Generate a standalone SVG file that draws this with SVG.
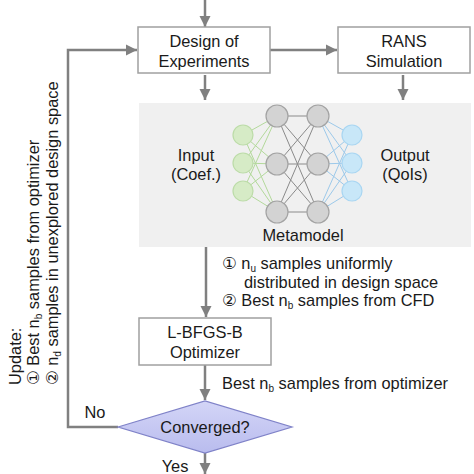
<svg xmlns="http://www.w3.org/2000/svg" width="474" height="474" viewBox="0 0 474 474">
<defs>
<style>
text{font-family:"Liberation Sans","DejaVu Sans",Arial,sans-serif;font-size:16.4px;fill:#1a1a1a}
.c{text-anchor:middle}
.s{font-size:10px}
.box{fill:#fff;stroke:#a0a0a0;stroke-width:1.5}
.arr{fill:none;stroke:#808080;stroke-width:2.5;marker-end:url(#ah)}
.g{fill:#d3d3d3;stroke:#a3a3a3;stroke-width:1.2}
.gi{fill:#d6ebc6;stroke:#bcdca8;stroke-width:1.2}
.bo{fill:#c8e7f8;stroke:#a9d6f2;stroke-width:1.2}
.eg{stroke:#8a8a8a;stroke-width:1}
.eg2{stroke:#b3d99b;stroke-width:1}
.eb{stroke:#9cc9ea;stroke-width:1}
</style>
<marker id="ah" markerUnits="userSpaceOnUse" markerWidth="12" markerHeight="12" viewBox="0 0 12 12" refX="11" refY="6" orient="auto">
<path d="M0,0.5 L11,6 L0,11.5 z" fill="#808080"/>
</marker>
<linearGradient id="dg" x1="0" y1="0" x2="0" y2="1">
<stop offset="0" stop-color="#d3d5f7"/>
<stop offset="1" stop-color="#b9bcee"/>
</linearGradient>
</defs>

<g id="connectors">
<path class="arr" d="M205,0 V27"/>
<path class="arr" d="M270,50 H337"/>
<path class="arr" d="M205,75 V100"/>
<path class="arr" d="M403,75 V100"/>
<path class="arr" d="M206,247 V317"/>
<path class="arr" d="M205,365 V400"/>
<path class="arr" d="M118,427 H68 V50 H137"/>
<path class="arr" d="M205,453 V474"/>
</g>

<g id="doe">
<rect class="box" x="138" y="27" width="132" height="46"/>
<text class="c" x="204" y="47">Design of</text>
<text class="c" x="204" y="67">Experiments</text>
</g>

<g id="rans">
<rect class="box" x="338" y="27" width="132" height="46"/>
<text class="c" x="404" y="47">RANS</text>
<text class="c" x="404" y="67">Simulation</text>
</g>

<g id="metamodel">
<rect x="139" y="103" width="332" height="144" fill="#f0f0f0"/>
<g id="edges">
<g class="eg2">
<line x1="243" y1="135" x2="277" y2="116"/><line x1="243" y1="135" x2="277" y2="164"/><line x1="243" y1="135" x2="277" y2="212"/>
<line x1="243" y1="163" x2="277" y2="116"/><line x1="243" y1="163" x2="277" y2="164"/><line x1="243" y1="163" x2="277" y2="212"/>
<line x1="243" y1="191" x2="277" y2="116"/><line x1="243" y1="191" x2="277" y2="164"/><line x1="243" y1="191" x2="277" y2="212"/>
</g>
<g class="eg">
<line x1="277" y1="116" x2="318" y2="116"/><line x1="277" y1="116" x2="318" y2="164"/><line x1="277" y1="116" x2="318" y2="212"/>
<line x1="277" y1="164" x2="318" y2="116"/><line x1="277" y1="164" x2="318" y2="164"/><line x1="277" y1="164" x2="318" y2="212"/>
<line x1="277" y1="212" x2="318" y2="116"/><line x1="277" y1="212" x2="318" y2="164"/><line x1="277" y1="212" x2="318" y2="212"/>
</g>
<g class="eb">
<line x1="318" y1="116" x2="352" y2="135"/><line x1="318" y1="116" x2="352" y2="163"/><line x1="318" y1="116" x2="352" y2="191"/>
<line x1="318" y1="164" x2="352" y2="135"/><line x1="318" y1="164" x2="352" y2="163"/><line x1="318" y1="164" x2="352" y2="191"/>
<line x1="318" y1="212" x2="352" y2="135"/><line x1="318" y1="212" x2="352" y2="163"/><line x1="318" y1="212" x2="352" y2="191"/>
</g>
</g>
<circle class="gi" cx="243" cy="135" r="10"/>
<circle class="gi" cx="243" cy="163" r="10"/>
<circle class="gi" cx="243" cy="191" r="10"/>
<circle class="g" cx="277" cy="116" r="11"/>
<circle class="g" cx="277" cy="164" r="11"/>
<circle class="g" cx="277" cy="212" r="11"/>
<circle class="g" cx="318" cy="116" r="11"/>
<circle class="g" cx="318" cy="164" r="11"/>
<circle class="g" cx="318" cy="212" r="11"/>
<circle class="bo" cx="352" cy="135" r="10"/>
<circle class="bo" cx="352" cy="163" r="10"/>
<circle class="bo" cx="352" cy="191" r="10"/>
<text class="c" x="196" y="161">Input</text>
<text class="c" x="196" y="180">(Coef.)</text>
<text class="c" x="405" y="161">Output</text>
<text class="c" x="405" y="180">(QoIs)</text>
<text class="c" x="303" y="241">Metamodel</text>
</g>

<g id="doe-label">
<text x="222" y="269">① n<tspan class="s" dy="2.5">u</tspan><tspan dy="-2.5"> samples uniformly</tspan></text>
<text x="244" y="288">distributed in design space</text>
<text x="222" y="306">② Best n<tspan class="s" dy="2.5">b</tspan><tspan dy="-2.5"> samples from CFD</tspan></text>
</g>

<g id="lbfgsb">
<rect class="box" x="139" y="318" width="132" height="47"/>
<text class="c" x="205" y="338">L-BFGS-B</text>
<text class="c" x="205" y="358">Optimizer</text>
</g>

<g id="opt-label">
<text x="222" y="389">Best n<tspan class="s" dy="2.5">b</tspan><tspan dy="-2.5"> samples from optimizer</tspan></text>
</g>

<g id="converged">
<polygon points="118,427 205,401 292,427 205,453" fill="url(#dg)" stroke="#7f82c8" stroke-width="1.2"/>
<text class="c" x="205" y="433">Converged?</text>
</g>

<g id="branch-labels">
<text class="c" x="95" y="418">No</text>
<text class="c" x="175" y="472">Yes</text>
</g>

<g id="update-label">
<text transform="translate(21,385) rotate(-90)">Update:</text>
<text transform="translate(39,385) rotate(-90)">① Best n<tspan class="s" dy="2.5">b</tspan><tspan dy="-2.5"> samples from optimizer</tspan></text>
<text transform="translate(58,385) rotate(-90)">② n<tspan class="s" dy="2.5">d</tspan><tspan dy="-2.5"> samples in unexplored design space</tspan></text>
</g>
</svg>
